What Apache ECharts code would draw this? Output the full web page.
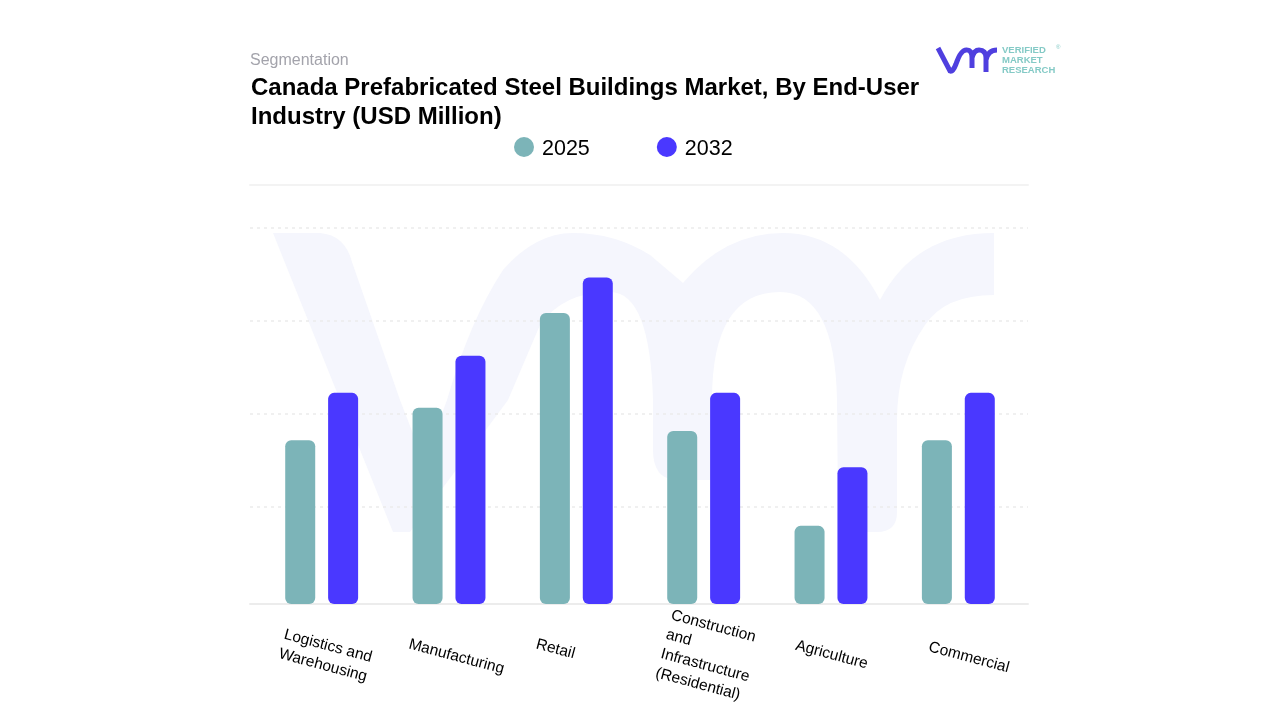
<!DOCTYPE html>
<html>
<head>
<meta charset="utf-8">
<title>Canada Prefabricated Steel Buildings Market</title>
<script src="https://cdn.jsdelivr.net/npm/echarts@6/dist/echarts.min.js"></script>
<style>
html, body { margin: 0; padding: 0; background: #fff; }
#chart { width: 1280px; height: 720px; }
</style>
</head>
<body>
<div id="chart"></div>
<script>
var categories = ['Logistics and\nWarehousing', 'Manufacturing', 'Retail', 'Construction\nand\nInfrastructure\n(Residential)', 'Agriculture', 'Commercial'];
var values2025 = [176, 211, 313, 186, 84, 176];
var values2032 = [227, 267, 351, 227, 147, 227];
var legendNames = ['2025', '2032'];

var TEAL = '#7cb4b8';
var BLUE = '#4a38ff';
var FONT = '"Liberation Sans", Arial, sans-serif';

// pale vmr mark behind the plot
var watermark = 'M273,233 L320,233 Q345,235 352,262 L400,400 L424,462 L447,400 Q470,320 503,270 Q535,233 573,233 ' +
    'Q615,233 650,255 L683,283 Q725,233 783,233 Q845,233 880,300 Q915,233 994,233 L994,295 Q945,295 925,325 ' +
    'Q897,365 897,420 L897,512 Q897,532 877,532 L858,532 Q838,532 838,512 L837,400 Q835,292 780,292 Q712,292 712,400 ' +
    'L712,480 L675,480 Q653,478 653,450 L653,400 ' +
    'Q650,292 610,292 Q563,292 540,325 L508,400 L410,532 L393,532 Z';
var logoMark = 'M938,48 L950,71 Q953,72 956,64 Q961,49 967,50 Q972,50 972,58 L972,68 M972,58 Q974,50 979,50 Q986,50 986,58 L986,72 M986,60 Q988,50 997,50';

echarts.graphic.registerShape('vmrWatermark', echarts.graphic.extendPath(watermark));
echarts.graphic.registerShape('vmrLogo', echarts.graphic.extendPath(logoMark));

var myChart = echarts.init(document.getElementById('chart'));

var option = {
    animation: false,
    backgroundColor: '#fff',
    title: [
        {
            text: 'Segmentation',
            left: 250, top: 53, padding: 0,
            textStyle: { fontFamily: FONT, fontSize: 16, fontWeight: 'normal', color: '#a3a3ab' }
        },
        {
            text: 'Canada Prefabricated Steel Buildings Market, By End-User\nIndustry (USD Million)',
            left: 251, top: 74, padding: 0,
            textStyle: { fontFamily: FONT, fontSize: 24, fontWeight: 'bold', color: '#000', lineHeight: 29 }
        }
    ],
    legend: {
        data: legendNames,
        left: 514, top: 137, padding: 0,
        icon: 'circle',
        itemWidth: 20, itemHeight: 20,
        itemGap: 67,
        formatter: '{t|{name}}',
        textStyle: {
            rich: { t: { fontFamily: FONT, fontSize: 21.5, color: '#000', padding: [4, 0, 0, 3] } }
        }
    },
    graphic: [
        { type: 'vmrWatermark', z: -1, style: { fill: '#f5f6fd' } },
        { type: 'vmrLogo', z: 5, style: { fill: null, stroke: '#4f3fdf', lineWidth: 5 } },
        { type: 'text', z: 5, left: 1002, top: 45, style: { text: 'VERIFIED', fontFamily: FONT, fontSize: 9.5, fontWeight: 'bold', fill: '#84cac6' } },
        { type: 'text', z: 5, left: 1056, top: 44, style: { text: '®', fontFamily: FONT, fontSize: 6, fill: '#84cac6' } },
        { type: 'text', z: 5, left: 1002, top: 55, style: { text: 'MARKET', fontFamily: FONT, fontSize: 9.5, fontWeight: 'bold', fill: '#84cac6' } },
        { type: 'text', z: 5, left: 1002, top: 65, style: { text: 'RESEARCH', fontFamily: FONT, fontSize: 9.5, fontWeight: 'bold', fill: '#84cac6' } }
    ],
    grid: [
        { left: 258, width: 764, top: 185, height: 419 },   // bars
        { left: 250, width: 778, top: 185, height: 415 },   // rules
        { left: 218, width: 764, top: 185, height: 419 }    // slanted labels
    ],
    xAxis: [
        { type: 'category', gridIndex: 0, data: categories, show: false },
        {
            type: 'category', gridIndex: 1, data: categories, offset: 4,
            axisLine: { onZero: false, lineStyle: { color: '#ececec', width: 2 } },
            axisTick: { show: false }, axisLabel: { show: false }
        },
        {
            type: 'category', gridIndex: 1, position: 'top', data: categories,
            axisLine: { onZero: false, lineStyle: { color: '#f3f3f3', width: 2 } },
            axisTick: { show: false }, axisLabel: { show: false }
        },
        {
            type: 'category', gridIndex: 2,
            data: categories.map(function (name, i) {
                // Agriculture and Commercial sit further right in the picture
                var pad = [0, 0, 0, 0, 5, 11][i];
                return { value: name, textStyle: { padding: [0, 0, 0, pad] } };
            }),
            axisLine: { show: false }, axisTick: { show: false },
            axisLabel: {
                interval: 0, rotate: -15, margin: 40,
                align: 'left', verticalAlign: 'middle',
                fontFamily: FONT, fontSize: 15.5, lineHeight: 20, color: '#000'
            }
        }
    ],
    yAxis: [
        { type: 'value', gridIndex: 0, min: 0, max: 450.5, show: false },
        {
            type: 'value', gridIndex: 1, min: 0, max: 446.2, interval: 100,
            axisLine: { show: false }, axisTick: { show: false }, axisLabel: { show: false },
            splitLine: { show: true, showMinLine: false, showMaxLine: false, lineStyle: { color: '#ebebeb', type: [3, 4], width: 1.5 } }
        },
        { type: 'value', gridIndex: 2, min: 0, max: 450.5, show: false }
    ],
    series: [
        {
            name: legendNames[0], type: 'bar', xAxisIndex: 0, yAxisIndex: 0,
            data: values2025, barWidth: 30, barGap: '43%',
            itemStyle: { color: TEAL, borderRadius: 6 }
        },
        {
            name: legendNames[1], type: 'bar', xAxisIndex: 0, yAxisIndex: 0,
            data: values2032, barWidth: 30,
            itemStyle: { color: BLUE, borderRadius: 6 }
        }
    ]
};

myChart.setOption(option);
</script>
</body>
</html>
